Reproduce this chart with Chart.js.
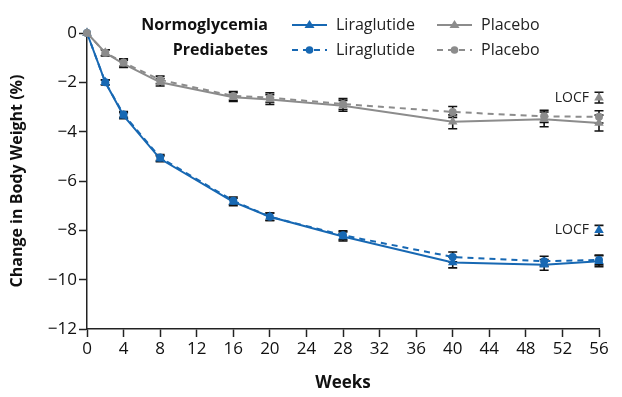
<!DOCTYPE html>
<html>
<head>
<meta charset="utf-8">
<script src="https://cdn.jsdelivr.net/npm/chart.js@4"></script>
<style>
    html, body { margin: 0; padding: 0; background: #ffffff; }
    #wrap { width: 622px; height: 397px; position: relative; }
</style>
</head>
<body>
<div id="wrap"><canvas id="weightChart"></canvas></div>
<script>
var weeks = [0, 2, 4, 8, 16, 20, 28, 40, 50, 56];

var liraNormo = [0, -2.0, -3.35, -5.1, -6.85, -7.45, -8.25, -9.3, -9.4, -9.25];
var liraNormoErr = [0, 0.1, 0.12, 0.12, 0.15, 0.15, 0.18, 0.22, 0.22, 0.22];
var liraPre = [0, -2.0, -3.3, -5.05, -6.8, -7.45, -8.2, -9.08, -9.25, -9.2];
var liraPreErr = [0, 0.1, 0.12, 0.12, 0.15, 0.15, 0.18, 0.2, 0.2, 0.2];

var placNormo = [0, -0.8, -1.25, -2.0, -2.6, -2.7, -2.95, -3.6, -3.5, -3.65];
var placNormoErr = [0, 0.12, 0.15, 0.15, 0.18, 0.2, 0.22, 0.28, 0.3, 0.32];
var placPre = [0, -0.8, -1.2, -1.9, -2.55, -2.62, -2.88, -3.2, -3.38, -3.4];
var placPreErr = [0, 0.12, 0.15, 0.15, 0.18, 0.2, 0.22, 0.22, 0.25, 0.25];

var locfWeek = 56;
var liraLocf = -8.0;
var liraLocfErr = 0.2;
var placLocf = -2.62;
var placLocfErr = 0.22;

var BLUE = '#1768b3';
var GRAY = '#8c8c8c';
var FONT = "'Open Sans', 'Noto Sans', sans-serif";
var NARROW = "'Liberation Sans Narrow', 'Open Sans', sans-serif";

function toPoints(xs, ys) {
    return xs.map(function(x, i) { return { x: x, y: ys[i] }; });
}

function lineSet(label, ys, errs, color, dashed, style) {
    return {
        label: label,
        data: toPoints(weeks, ys),
        errors: errs,
        borderColor: color,
        backgroundColor: color,
        borderWidth: 2,
        borderDash: dashed ? [6, 5] : [],
        pointStyle: style,
        pointRadius: style === 'triangle' ? 5.5 : 4,
        pointBorderWidth: 0,
        tension: 0,
        clip: false
    };
}

var errorBarPlugin = {
    id: 'errorBars',
    beforeDatasetsDraw: function(chart) {
        var ctx = chart.ctx;
        var ys = chart.scales.y;
        ctx.save();
        ctx.strokeStyle = '#111111';
        ctx.lineWidth = 1.6;
        chart.data.datasets.forEach(function(ds, di) {
            if (!ds.errors) return;
            var meta = chart.getDatasetMeta(di);
            meta.data.forEach(function(pt, i) {
                var e = ds.errors[i];
                if (!e) return;
                var v = ds.data[i].y;
                var top = ys.getPixelForValue(v + e);
                var bot = ys.getPixelForValue(v - e);
                ctx.beginPath();
                ctx.moveTo(pt.x, top); ctx.lineTo(pt.x, bot);
                ctx.moveTo(pt.x - 4.5, top); ctx.lineTo(pt.x + 4.5, top);
                ctx.moveTo(pt.x - 4.5, bot); ctx.lineTo(pt.x + 4.5, bot);
                ctx.stroke();
            });
        });
        ctx.restore();
    }
};

var legendPlugin = {
    id: 'customLegend',
    afterDraw: function(chart) {
        var ctx = chart.ctx;
        var xs = chart.scales.x;
        var ys = chart.scales.y;
        ctx.save();

        // LOCF labels
        ctx.font = '14px ' + FONT;
        ctx.fillStyle = '#222222';
        ctx.textAlign = 'right';
        ctx.textBaseline = 'middle';
        ctx.fillText('LOCF', xs.getPixelForValue(locfWeek) - 10, ys.getPixelForValue(liraLocf));
        ctx.fillText('LOCF', xs.getPixelForValue(locfWeek) - 10, ys.getPixelForValue(placLocf));

        // legend rows
        var rows = [
            { name: 'Normoglycemia', y: 25, dash: [], style: 'triangle' },
            { name: 'Prediabetes', y: 50, dash: [6, 5], style: 'circle' }
        ];
        rows.forEach(function(r) {
            ctx.font = 'bold 16px ' + FONT;
            ctx.fillStyle = '#111111';
            ctx.textAlign = 'right';
            ctx.fillText(r.name, 268, r.y);

            [[292, BLUE, 'Liraglutide'], [437, GRAY, 'Placebo']].forEach(function(s) {
                ctx.strokeStyle = s[1];
                ctx.fillStyle = s[1];
                ctx.lineWidth = 2;
                ctx.setLineDash(r.dash);
                ctx.beginPath();
                ctx.moveTo(s[0], r.y); ctx.lineTo(s[0] + 35, r.y);
                ctx.stroke();
                ctx.setLineDash([]);
                var cx = s[0] + 17.5;
                ctx.beginPath();
                if (r.style === 'triangle') {
                    ctx.moveTo(cx, r.y - 5);
                    ctx.lineTo(cx + 5, r.y + 3);
                    ctx.lineTo(cx - 5, r.y + 3);
                    ctx.closePath();
                } else {
                    ctx.arc(cx, r.y, 3.8, 0, Math.PI * 2);
                }
                ctx.fill();
                ctx.font = '16px ' + FONT;
                ctx.fillStyle = '#222222';
                ctx.textAlign = 'left';
                ctx.fillText(s[2], s[0] + 44, r.y);
            });
        });
        ctx.restore();
    }
};

var datasets = [
    lineSet('Placebo Prediabetes', placPre, placPreErr, GRAY, true, 'circle'),
    lineSet('Placebo Normoglycemia', placNormo, placNormoErr, GRAY, false, 'triangle'),
    lineSet('Liraglutide Prediabetes', liraPre, liraPreErr, BLUE, true, 'circle'),
    lineSet('Liraglutide Normoglycemia', liraNormo, liraNormoErr, BLUE, false, 'triangle'),
    {
        label: 'Placebo LOCF',
        data: [{ x: locfWeek, y: placLocf }],
        errors: [placLocfErr],
        showLine: false,
        backgroundColor: GRAY,
        borderColor: GRAY,
        pointStyle: 'triangle',
        pointRadius: 5.5,
        pointBorderWidth: 0,
        clip: false
    },
    {
        label: 'Liraglutide LOCF',
        data: [{ x: locfWeek, y: liraLocf }],
        errors: [liraLocfErr],
        showLine: false,
        backgroundColor: BLUE,
        borderColor: BLUE,
        pointStyle: 'triangle',
        pointRadius: 5.5,
        pointBorderWidth: 0,
        clip: false
    }
];

new Chart(document.getElementById('weightChart').getContext('2d'), {
    type: 'line',
    data: { datasets: datasets },
    plugins: [errorBarPlugin, legendPlugin],
    options: {
        responsive: true,
        maintainAspectRatio: false,
        animation: false,
        layout: { padding: { left: 0, right: 23, top: 33, bottom: 0 } },
        plugins: {
            legend: { display: false },
            tooltip: { enabled: false }
        },
        scales: {
            x: {
                type: 'linear',
                min: 0,
                max: 56,
                afterFit: function(scale) { scale.height = 68; },
                ticks: {
                    stepSize: 4,
                    color: '#111111',
                    padding: 2,
                    font: { family: NARROW, size: 17 }
                },
                grid: {
                    drawOnChartArea: false,
                    color: '#222222',
                    tickLength: 8,
                    tickWidth: 1.5
                },
                border: { color: '#222222', width: 1.5 },
                title: {
                    display: true,
                    text: 'Weeks',
                    color: '#111111',
                    padding: { top: 4 },
                    font: { family: FONT, size: 17, weight: 'bold' }
                }
            },
            y: {
                min: -12,
                max: 0,
                afterFit: function(scale) { scale.width = 87; },
                ticks: {
                    stepSize: 2,
                    color: '#111111',
                    padding: 2,
                    font: { family: NARROW, size: 17 },
                    callback: function(v) { return String(v).replace('-', '\u2212'); }
                },
                grid: {
                    drawOnChartArea: false,
                    color: '#222222',
                    tickLength: 8,
                    tickWidth: 1.5
                },
                border: { color: '#222222', width: 1.5 },
                title: {
                    display: true,
                    text: 'Change in Body Weight (%)',
                    color: '#111111',
                    padding: { top: 8, bottom: 4 },
                    font: { family: FONT, size: 16, weight: 'bold' }
                }
            }
        }
    }
});
</script>
</body>
</html>
